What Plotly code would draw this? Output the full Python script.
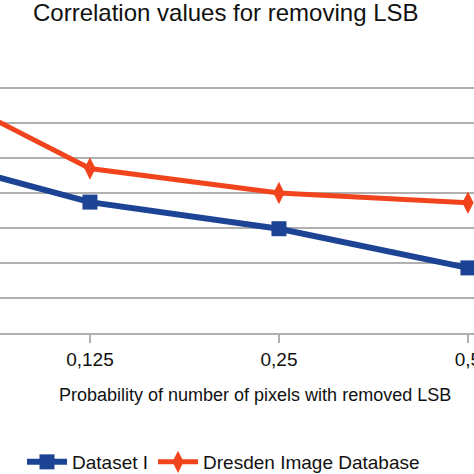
import plotly.graph_objects as go

categories = ["0,0625", "0,125", "0,25", "0,5"]
dataset_i = [0.860, 0.787, 0.749, 0.693]
dresden = [0.973, 0.835, 0.800, 0.786]

title_text = "Correlation values for removing LSB"
xaxis_title = "Probability of number of pixels with removed LSB"

BLUE = "#1d4494"
RED = "#f2441c"
FONT = "Liberation Sans, Arial, sans-serif"

fig = go.Figure()
fig.add_trace(go.Scatter(
    x=categories, y=dataset_i, name="Dataset I", mode="lines+markers",
    line=dict(color=BLUE, width=6),
    marker=dict(symbol="square", size=15, color=BLUE),
))
fig.add_trace(go.Scatter(
    x=categories, y=dresden, name="Dresden Image Database", mode="lines+markers",
    line=dict(color=RED, width=5),
    marker=dict(symbol="diamond-tall", size=16, color=RED),
))

H_PLOT = 280
fig.update_layout(
    width=474, height=474,
    margin=dict(l=0, r=0, t=53, b=141, autoexpand=False),
    paper_bgcolor="white", plot_bgcolor="white",
    font=dict(family=FONT, color="#111111"),
    showlegend=True,
    legend=dict(orientation="h", x=22 / 474, xanchor="left", y=(333 - 462) / H_PLOT,
                yanchor="middle", font=dict(size=19, family=FONT, color="#111111"),
                itemwidth=40, tracegroupgap=0),
    xaxis=dict(type="category", categoryorder="array", categoryarray=categories,
               range=[0.524, 3.032], showgrid=False, showline=True,
               linecolor="#b0b0b0", linewidth=2, ticks="outside", ticklen=8,
               tickwidth=1.5, tickcolor="#b0b0b0", automargin=False,
               tickfont=dict(size=19, family=FONT, color="#111111"),
               zeroline=False, fixedrange=True),
    yaxis=dict(range=[0.6, 1.0], dtick=0.05, tick0=0.6, showgrid=True,
               gridcolor="#b0b0b0", gridwidth=1.5, showticklabels=False,
               showline=False, zeroline=False, ticks="", automargin=False),
    annotations=[
        dict(text=title_text, xref="paper", yref="paper", x=226 / 474, y=(333 - 12) / H_PLOT,
             xanchor="center", yanchor="middle", showarrow=False,
             font=dict(size=24, family=FONT, color="#111111")),
        dict(text=xaxis_title, xref="paper", yref="paper", x=255 / 474, y=(333 - 395) / H_PLOT,
             xanchor="center", yanchor="middle", showarrow=False,
             font=dict(size=18, family=FONT, color="#111111")),
    ],
)

fig.write_html("out.html")
